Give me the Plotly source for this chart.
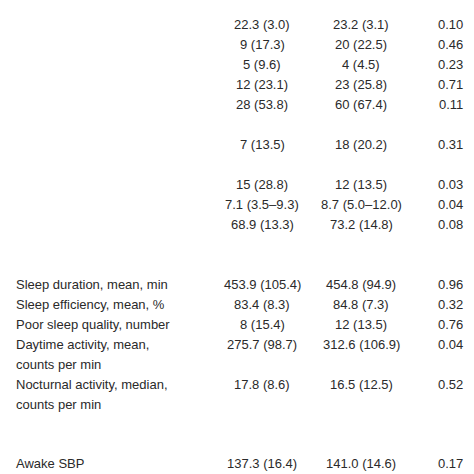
import plotly.graph_objects as go

# table rows: label, group 1, group 2, P value (None for header / blank lines)
labels = [
    "Gender, number, male",
    "Body mass index, mean, kg m<sup>−2</sup>",
    "Obesity (⩾25 kg m<sup>−2</sup>), number",
    "Current smoker, number",
    "Habitual drinker, number",
    "Use of antihypertensive medication,<br>number",
    "Evening use of antihypertensive drug,<br>number",
    "Diabetes, number",
    "UME, median, μg",
    "eGFR, mean, ml min<sup>−1</sup> per 1.73 m<sup>2</sup>",
    "",
    "<i>Actigraphic parameters</i>",
    "Sleep duration, mean, min",
    "Sleep efficiency, mean, %",
    "Poor sleep quality, number",
    "Daytime activity, mean,<br>counts per min",
    "Nocturnal activity, median,<br>counts per min",
    "",
    "<i>Ambulatory BP parameters (mean, mm Hg)</i>",
    "Awake SBP",
]
indent = [0]*12 + [1]*5 + [0, 0, 1]
group1 = ["24 (46.2)", "22.3 (3.0)", "9 (17.3)", "5 (9.6)", "12 (23.1)", "28 (53.8)",
          "7 (13.5)", "15 (28.8)", "7.1 (3.5–9.3)", "68.9 (13.3)", "", "",
          "453.9 (105.4)", "83.4 (8.3)", "8 (15.4)", "275.7 (98.7)", "17.8 (8.6)",
          "", "", "137.3 (16.4)"]
group2 = ["46 (51.7)", "23.2 (3.1)", "20 (22.5)", "4 (4.5)", "23 (25.8)", "60 (67.4)",
          "18 (20.2)", "12 (13.5)", "8.7 (5.0–12.0)", "73.2 (14.8)", "", "",
          "454.8 (94.9)", "84.8 (7.3)", "12 (13.5)", "312.6 (106.9)", "16.5 (12.5)",
          "", "", "141.0 (14.6)"]
pvals = ["0.53", "0.10", "0.46", "0.23", "0.71", "0.11", "0.31", "0.03", "0.04", "0.08",
         "", "", "0.96", "0.32", "0.76", "0.04", "0.52", "", "", "0.17"]

font = dict(family="Liberation Sans", size=13, color="#2a2a2a")
step = 19.95
fig = go.Figure()
anns = []
line = 0
for lab, ind, a, b, p in zip(labels, indent, group1, group2, pvals):
    y = 5 + line * step
    if lab:
        parts = lab.split("<br>")
        for k, part in enumerate(parts):
            anns.append(dict(x=1 + 13*ind, y=y + k*step, text=part, xanchor="left",
                             yanchor="middle", showarrow=False, font=font))
    if a:
        anns.append(dict(x=262, y=y, text=a, xanchor="center", yanchor="middle",
                         showarrow=False, font=font))
        anns.append(dict(x=361, y=y, text=b, xanchor="center", yanchor="middle",
                         showarrow=False, font=font))
        anns.append(dict(x=465, y=y, text=p, xanchor="right", yanchor="middle",
                         showarrow=False, font=font))
    line += lab.count("<br>") + 1

# page body has an 8px margin, so shift the ranges to keep picture pixels
fig.update_layout(
    width=474, height=474, margin=dict(l=0, r=0, t=0, b=0),
    paper_bgcolor="white", plot_bgcolor="white", annotations=anns,
    xaxis=dict(range=[8, 482], visible=False),
    yaxis=dict(range=[482, 8], visible=False),
    showlegend=False,
)
fig.write_html("out.html")
